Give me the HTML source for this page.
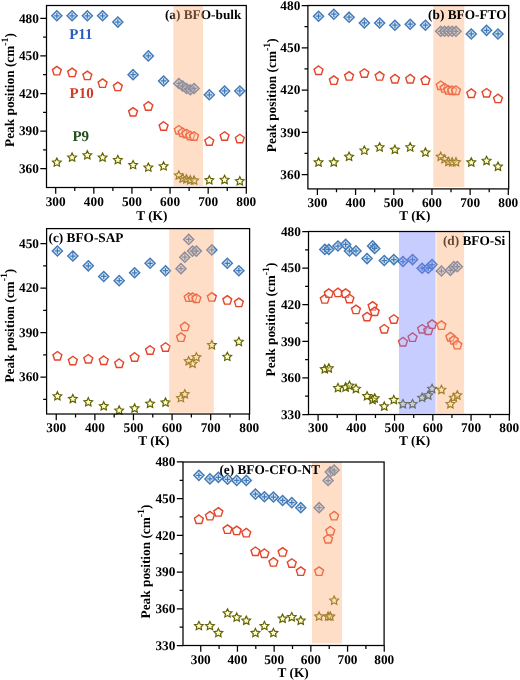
<!DOCTYPE html>
<html lang="en">
<head>
<meta charset="utf-8">
<title>Peak position vs T</title>
<style>
html,body{margin:0;padding:0;background:#fff;}
body{width:520px;height:680px;overflow:hidden;}
svg{display:block;}
</style>
</head>
<body>
<svg width="520" height="680" viewBox="0 0 520 680" font-family="'Liberation Serif', serif" font-weight="bold" font-size="13.3" text-rendering="geometricPrecision">
<defs>
<g id="d"><path d="M0,-5.05 L5.05,0 L0,5.05 L-5.05,0 Z" fill="#a8cdec" fill-opacity="0.5" stroke="#4379b6" stroke-width="1.45" stroke-linejoin="miter"/><path d="M-2.7,0 H2.7 M0,-2.7 V2.7" stroke="#4379b6" stroke-width="1.25" fill="none"/></g>
<polygon id="p" points="0,-4.35 4.47,-1.1 2.76,4.15 -2.76,4.15 -4.47,-1.1" fill="#fff4ec" fill-opacity="0.35" stroke="#e2452c" stroke-width="1.4" stroke-linejoin="miter"/>
<polygon id="s" points="0,-4.05 1.32,-1.32 4.33,-0.91 2.14,1.2 2.67,4.18 0,2.75 -2.67,4.18 -2.14,1.2 -4.33,-0.91 -1.32,-1.32" fill="#ffff90" fill-opacity="0.45" stroke="#626204" stroke-width="1.2" stroke-linejoin="miter"/>
</defs>
<rect width="520" height="680" fill="#fff"/>
<g id="panel-a">
<g><use href="#d" x="56.84" y="15.79"/><use href="#d" x="72.09" y="15.79"/><use href="#d" x="87.34" y="15.79"/><use href="#d" x="102.59" y="15.79"/><use href="#d" x="117.84" y="22.06"/><use href="#d" x="133.08" y="74.7"/><use href="#d" x="148.33" y="55.9"/><use href="#d" x="163.58" y="80.97"/><use href="#d" x="178.83" y="83.47"/><use href="#d" x="182.64" y="85.98"/><use href="#d" x="186.45" y="88.49"/><use href="#d" x="190.26" y="89.74"/><use href="#d" x="194.08" y="88.49"/><use href="#d" x="209.32" y="94.75"/><use href="#d" x="224.57" y="90.99"/><use href="#d" x="239.82" y="90.99"/></g>
<g><use href="#p" x="56.84" y="70.69"/><use href="#p" x="72.09" y="72.44"/><use href="#p" x="87.34" y="75.45"/><use href="#p" x="102.59" y="83.22"/><use href="#p" x="117.84" y="86.48"/><use href="#p" x="133.08" y="111.92"/><use href="#p" x="148.33" y="106.03"/><use href="#p" x="163.58" y="126.09"/><use href="#p" x="178.83" y="129.85"/><use href="#p" x="182.64" y="132.35"/><use href="#p" x="186.45" y="133.61"/><use href="#p" x="190.26" y="135.61"/><use href="#p" x="194.08" y="136.11"/><use href="#p" x="209.32" y="141.13"/><use href="#p" x="224.57" y="136.11"/><use href="#p" x="239.82" y="138.62"/></g>
<g><use href="#s" x="56.84" y="162.06"/><use href="#s" x="72.09" y="157.04"/><use href="#s" x="87.34" y="154.79"/><use href="#s" x="102.59" y="157.04"/><use href="#s" x="117.84" y="159.55"/><use href="#s" x="133.08" y="164.56"/><use href="#s" x="148.33" y="167.07"/><use href="#s" x="163.58" y="165.82"/><use href="#s" x="178.83" y="174.97"/><use href="#s" x="182.64" y="177.85"/><use href="#s" x="186.45" y="178.73"/><use href="#s" x="190.26" y="179.73"/><use href="#s" x="194.08" y="179.98"/><use href="#s" x="209.32" y="179.73"/><use href="#s" x="224.57" y="179.35"/><use href="#s" x="239.82" y="180.73"/></g>
<text x="241.4" y="19" text-anchor="end" font-size="13.3">(a) BFO-bulk</text>
<text x="69.2" y="38.5" fill="#2a5cc0" font-size="15">P11</text>
<text x="69.5" y="97.5" fill="#d23a28" font-size="15">P10</text>
<text x="72.4" y="141.3" fill="#23501a" font-size="15">P9</text>
<rect x="173.4" y="5.5" width="29.6" height="180.7" fill="rgba(255,172,117,0.4)"/>
<rect x="46.5" y="5.5" width="199.8" height="182" fill="none" stroke="#000" stroke-width="1.25"/>
<path d="M46.5,168.7 h-6.2 M46.5,131.1 h-6.2 M46.5,93.5 h-6.2 M46.5,55.9 h-6.2 M46.5,18.3 h-6.2 M46.5,149.9 h-3.4 M46.5,112.3 h-3.4 M46.5,74.7 h-3.4 M46.5,37.1 h-3.4 M55.7,187.5 v6.2 M93.82,187.5 v6.2 M131.94,187.5 v6.2 M170.06,187.5 v6.2 M208.18,187.5 v6.2 M246.3,187.5 v6.2 M74.76,187.5 v3.4 M112.88,187.5 v3.4 M151,187.5 v3.4 M189.12,187.5 v3.4 M227.24,187.5 v3.4" stroke="#000" stroke-width="1.25" fill="none"/>
<text x="38.9" y="173" text-anchor="end">360</text>
<text x="38.9" y="135.4" text-anchor="end">390</text>
<text x="38.9" y="97.8" text-anchor="end">420</text>
<text x="38.9" y="60.2" text-anchor="end">450</text>
<text x="38.9" y="22.6" text-anchor="end">480</text>
<text x="55.7" y="206.4" text-anchor="middle">300</text>
<text x="93.82" y="206.4" text-anchor="middle">400</text>
<text x="131.94" y="206.4" text-anchor="middle">500</text>
<text x="170.06" y="206.4" text-anchor="middle">600</text>
<text x="208.18" y="206.4" text-anchor="middle">700</text>
<text x="246.3" y="206.4" text-anchor="middle">800</text>
<text x="151.8" y="219.5" text-anchor="middle">T (K)</text>
<text transform="translate(14.2,90) rotate(-90)" text-anchor="middle">Peak position (cm<tspan font-size="9.8" dy="-6.1">-1</tspan><tspan dy="6.1">)</tspan></text>
</g>
<g id="panel-b">
<g><use href="#d" x="318.55" y="16.21"/><use href="#d" x="333.82" y="14.24"/><use href="#d" x="349.09" y="17.2"/><use href="#d" x="364.36" y="22.97"/><use href="#d" x="379.63" y="22.97"/><use href="#d" x="394.91" y="25.23"/><use href="#d" x="410.18" y="24.24"/><use href="#d" x="425.45" y="25.23"/><use href="#d" x="440.72" y="31.29"/><use href="#d" x="444.54" y="31.29"/><use href="#d" x="448.36" y="31.29"/><use href="#d" x="452.18" y="31.29"/><use href="#d" x="455.99" y="31.29"/><use href="#d" x="471.27" y="33.97"/><use href="#d" x="486.54" y="30.3"/><use href="#d" x="497.99" y="33.97"/></g>
<g><use href="#p" x="318.55" y="70.32"/><use href="#p" x="333.82" y="80.19"/><use href="#p" x="349.09" y="75.96"/><use href="#p" x="364.36" y="73.14"/><use href="#p" x="379.63" y="75.96"/><use href="#p" x="394.91" y="78.78"/><use href="#p" x="410.18" y="78.78"/><use href="#p" x="425.45" y="80.19"/><use href="#p" x="440.72" y="85.4"/><use href="#p" x="444.54" y="87.94"/><use href="#p" x="448.36" y="89.91"/><use href="#p" x="452.18" y="90.33"/><use href="#p" x="455.99" y="90.33"/><use href="#p" x="471.27" y="93.29"/><use href="#p" x="486.54" y="92.87"/><use href="#p" x="497.99" y="98.5"/></g>
<g><use href="#s" x="318.55" y="161.92"/><use href="#s" x="333.82" y="161.92"/><use href="#s" x="349.09" y="156.28"/><use href="#s" x="364.36" y="150.08"/><use href="#s" x="379.63" y="146.84"/><use href="#s" x="394.91" y="149.24"/><use href="#s" x="410.18" y="146.84"/><use href="#s" x="425.45" y="152.05"/><use href="#s" x="440.72" y="156.28"/><use href="#s" x="444.54" y="158.82"/><use href="#s" x="448.36" y="161.35"/><use href="#s" x="452.18" y="161.78"/><use href="#s" x="455.99" y="161.78"/><use href="#s" x="471.27" y="161.92"/><use href="#s" x="486.54" y="160.37"/><use href="#s" x="497.99" y="166.15"/></g>
<rect x="433.3" y="5.5" width="31" height="181.6" fill="rgba(255,172,117,0.4)"/>
<text x="506.5" y="19.2" text-anchor="end" font-size="13.3">(b) BFO-FTO</text>
<rect x="307.9" y="5.5" width="200.8" height="183.4" fill="none" stroke="#000" stroke-width="1.25"/>
<path d="M307.9,174.6 h-6.2 M307.9,132.32 h-6.2 M307.9,90.05 h-6.2 M307.9,47.77 h-6.2 M307.9,5.5 h-6.2 M307.9,153.46 h-3.4 M307.9,111.19 h-3.4 M307.9,68.91 h-3.4 M307.9,26.64 h-3.4 M317.4,188.9 v6.2 M355.58,188.9 v6.2 M393.76,188.9 v6.2 M431.94,188.9 v6.2 M470.12,188.9 v6.2 M508.3,188.9 v6.2 M336.49,188.9 v3.4 M374.67,188.9 v3.4 M412.85,188.9 v3.4 M451.03,188.9 v3.4 M489.21,188.9 v3.4" stroke="#000" stroke-width="1.25" fill="none"/>
<text x="300.3" y="178.9" text-anchor="end">360</text>
<text x="300.3" y="136.62" text-anchor="end">390</text>
<text x="300.3" y="94.35" text-anchor="end">420</text>
<text x="300.3" y="52.07" text-anchor="end">450</text>
<text x="300.3" y="9.8" text-anchor="end">480</text>
<text x="317.4" y="207.3" text-anchor="middle">300</text>
<text x="355.58" y="207.3" text-anchor="middle">400</text>
<text x="393.76" y="207.3" text-anchor="middle">500</text>
<text x="431.94" y="207.3" text-anchor="middle">600</text>
<text x="470.12" y="207.3" text-anchor="middle">700</text>
<text x="508.3" y="207.3" text-anchor="middle">800</text>
<text x="414.8" y="220" text-anchor="middle">T (K)</text>
<text transform="translate(276.4,95.3) rotate(-90)" text-anchor="middle">Peak position (cm<tspan font-size="9.8" dy="-6.1">-1</tspan><tspan dy="6.1">)</tspan></text>
</g>
<g id="panel-c">
<g><use href="#d" x="57.41" y="250.97"/><use href="#d" x="72.85" y="256.01"/><use href="#d" x="88.3" y="265.81"/><use href="#d" x="103.74" y="276.49"/><use href="#d" x="119.18" y="280.65"/><use href="#d" x="134.63" y="272.78"/><use href="#d" x="150.07" y="263.29"/><use href="#d" x="165.52" y="270.71"/><use href="#d" x="180.96" y="268.63"/><use href="#d" x="184.82" y="257.2"/><use href="#d" x="188.68" y="239.4"/><use href="#d" x="192.54" y="251.12"/><use href="#d" x="196.4" y="251.12"/><use href="#d" x="211.85" y="249.93"/><use href="#d" x="227.29" y="263.29"/><use href="#d" x="238.88" y="270.71"/></g>
<g><use href="#p" x="57.41" y="355.88"/><use href="#p" x="72.85" y="360.63"/><use href="#p" x="88.3" y="358.85"/><use href="#p" x="103.74" y="360.33"/><use href="#p" x="119.18" y="363.3"/><use href="#p" x="134.63" y="357.07"/><use href="#p" x="150.07" y="350.09"/><use href="#p" x="165.52" y="347.13"/><use href="#p" x="180.96" y="337.18"/><use href="#p" x="184.82" y="326.5"/><use href="#p" x="188.68" y="297.27"/><use href="#p" x="192.54" y="297.27"/><use href="#p" x="196.4" y="298.31"/><use href="#p" x="211.85" y="296.97"/><use href="#p" x="227.29" y="299.94"/><use href="#p" x="238.88" y="302.46"/></g>
<g><use href="#s" x="57.41" y="395.8"/><use href="#s" x="72.85" y="398.47"/><use href="#s" x="88.3" y="401.73"/><use href="#s" x="103.74" y="405.74"/><use href="#s" x="119.18" y="410.04"/><use href="#s" x="134.63" y="407.96"/><use href="#s" x="150.07" y="403.22"/><use href="#s" x="165.52" y="402.03"/><use href="#s" x="180.96" y="397.58"/><use href="#s" x="184.82" y="393.72"/><use href="#s" x="188.68" y="360.78"/><use href="#s" x="192.54" y="363.3"/><use href="#s" x="196.4" y="356.77"/><use href="#s" x="211.85" y="344.6"/><use href="#s" x="227.29" y="356.33"/><use href="#s" x="238.88" y="341.34"/></g>
<text x="48.5" y="242" text-anchor="start" font-size="13.3">(c) BFO-SAP</text>
<rect x="169.2" y="228.6" width="44.6" height="184.2" fill="rgba(255,172,117,0.4)"/>
<rect x="46.6" y="228.6" width="203" height="185.4" fill="none" stroke="#000" stroke-width="1.25"/>
<path d="M46.6,377.1 h-6.2 M46.6,332.58 h-6.2 M46.6,288.07 h-6.2 M46.6,243.55 h-6.2 M46.6,399.36 h-3.4 M46.6,354.84 h-3.4 M46.6,310.33 h-3.4 M46.6,265.81 h-3.4 M56.25,414 v6.2 M94.86,414 v6.2 M133.47,414 v6.2 M172.08,414 v6.2 M210.69,414 v6.2 M249.3,414 v6.2 M75.56,414 v3.4 M114.16,414 v3.4 M152.78,414 v3.4 M191.38,414 v3.4 M230,414 v3.4" stroke="#000" stroke-width="1.25" fill="none"/>
<text x="39" y="381.4" text-anchor="end">360</text>
<text x="39" y="336.88" text-anchor="end">390</text>
<text x="39" y="292.37" text-anchor="end">420</text>
<text x="39" y="247.85" text-anchor="end">450</text>
<text x="56.25" y="432.4" text-anchor="middle">300</text>
<text x="94.86" y="432.4" text-anchor="middle">400</text>
<text x="133.47" y="432.4" text-anchor="middle">500</text>
<text x="172.08" y="432.4" text-anchor="middle">600</text>
<text x="210.69" y="432.4" text-anchor="middle">700</text>
<text x="249.3" y="432.4" text-anchor="middle">800</text>
<text x="153.9" y="444.8" text-anchor="middle">T (K)</text>
<text transform="translate(13.5,325.6) rotate(-90)" text-anchor="middle">Peak position (cm<tspan font-size="9.8" dy="-6.1">-1</tspan><tspan dy="6.1">)</tspan></text>
</g>
<g id="panel-d">
<g><use href="#d" x="324.79" y="249.43"/><use href="#d" x="328.81" y="249.43"/><use href="#d" x="337.98" y="246.02"/><use href="#d" x="345.63" y="244.43"/><use href="#d" x="349.46" y="250.9"/><use href="#d" x="355.96" y="250.9"/><use href="#d" x="367.05" y="258.58"/><use href="#d" x="372.59" y="245.9"/><use href="#d" x="374.7" y="248.46"/><use href="#d" x="384.26" y="260.54"/><use href="#d" x="393.82" y="259.56"/><use href="#d" x="402.99" y="261.51"/><use href="#d" x="412.55" y="259.56"/><use href="#d" x="422.11" y="268.22"/><use href="#d" x="428.23" y="268.22"/><use href="#d" x="432.06" y="264.56"/><use href="#d" x="441.42" y="271.03"/><use href="#d" x="450.41" y="270.3"/><use href="#d" x="453.85" y="266.64"/><use href="#d" x="457.29" y="266.64"/></g>
<g><use href="#p" x="324.79" y="298.97"/><use href="#p" x="328.81" y="293.23"/><use href="#p" x="337.98" y="292.5"/><use href="#p" x="345.63" y="293.23"/><use href="#p" x="349.46" y="298.6"/><use href="#p" x="355.96" y="309.46"/><use href="#p" x="367.05" y="316.66"/><use href="#p" x="372.59" y="305.92"/><use href="#p" x="374.7" y="311.41"/><use href="#p" x="384.26" y="328.86"/><use href="#p" x="393.82" y="319.1"/><use href="#p" x="402.99" y="341.79"/><use href="#p" x="412.55" y="337.27"/><use href="#p" x="422.11" y="328.86"/><use href="#p" x="428.23" y="330.32"/><use href="#p" x="432.06" y="324.22"/><use href="#p" x="441.42" y="325.2"/><use href="#p" x="450.41" y="336.79"/><use href="#p" x="453.85" y="339.96"/><use href="#p" x="457.29" y="344.72"/></g>
<g><use href="#s" x="324.79" y="368.75"/><use href="#s" x="328.81" y="367.9"/><use href="#s" x="337.98" y="387.54"/><use href="#s" x="345.63" y="386.93"/><use href="#s" x="349.46" y="385.22"/><use href="#s" x="355.96" y="388.39"/><use href="#s" x="367.05" y="395.71"/><use href="#s" x="372.59" y="399.49"/><use href="#s" x="374.7" y="397.91"/><use href="#s" x="384.26" y="405.96"/><use href="#s" x="393.82" y="399.49"/><use href="#s" x="402.99" y="403.64"/><use href="#s" x="412.55" y="403.64"/><use href="#s" x="422.11" y="397.3"/><use href="#s" x="428.23" y="394.86"/><use href="#s" x="432.06" y="388.39"/><use href="#s" x="441.42" y="389.37"/><use href="#s" x="450.41" y="403.64"/><use href="#s" x="453.85" y="397.3"/><use href="#s" x="457.29" y="394.86"/></g>
<text x="442.9" y="245.2" text-anchor="start" font-size="13.3">(d) BFO-Si</text>
<rect x="399" y="231.5" width="36.6" height="182" fill="rgba(118,130,255,0.4)"/>
<rect x="436.4" y="231.5" width="27.7" height="182" fill="rgba(255,172,117,0.4)"/>
<rect x="308.5" y="231.5" width="201" height="183" fill="none" stroke="#000" stroke-width="1.25"/>
<path d="M308.5,414.5 h-6.2 M308.5,377.9 h-6.2 M308.5,341.3 h-6.2 M308.5,304.7 h-6.2 M308.5,268.1 h-6.2 M308.5,231.5 h-6.2 M308.5,396.2 h-3.4 M308.5,359.6 h-3.4 M308.5,323 h-3.4 M308.5,286.4 h-3.4 M308.5,249.8 h-3.4 M318.1,414.5 v6.2 M356.34,414.5 v6.2 M394.58,414.5 v6.2 M432.82,414.5 v6.2 M471.06,414.5 v6.2 M509.3,414.5 v6.2 M337.22,414.5 v3.4 M375.46,414.5 v3.4 M413.7,414.5 v3.4 M451.94,414.5 v3.4 M490.18,414.5 v3.4" stroke="#000" stroke-width="1.25" fill="none"/>
<text x="300.9" y="418.8" text-anchor="end">330</text>
<text x="300.9" y="382.2" text-anchor="end">360</text>
<text x="300.9" y="345.6" text-anchor="end">390</text>
<text x="300.9" y="309" text-anchor="end">420</text>
<text x="300.9" y="272.4" text-anchor="end">450</text>
<text x="300.9" y="235.8" text-anchor="end">480</text>
<text x="318.1" y="432.3" text-anchor="middle">300</text>
<text x="356.34" y="432.3" text-anchor="middle">400</text>
<text x="394.58" y="432.3" text-anchor="middle">500</text>
<text x="432.82" y="432.3" text-anchor="middle">600</text>
<text x="471.06" y="432.3" text-anchor="middle">700</text>
<text x="509.3" y="432.3" text-anchor="middle">800</text>
<text x="414.6" y="444.8" text-anchor="middle">T (K)</text>
<text transform="translate(275.3,319.5) rotate(-90)" text-anchor="middle">Peak position (cm<tspan font-size="9.8" dy="-6.1">-1</tspan><tspan dy="6.1">)</tspan></text>
</g>
<g id="panel-e">
<g><use href="#d" x="198.91" y="475.36"/><use href="#d" x="209.93" y="478.91"/><use href="#d" x="218.37" y="477.32"/><use href="#d" x="227.54" y="479.28"/><use href="#d" x="236.72" y="480.38"/><use href="#d" x="246.26" y="480.38"/><use href="#d" x="255.43" y="494.09"/><use href="#d" x="264.42" y="496.78"/><use href="#d" x="273.42" y="497.03"/><use href="#d" x="282.59" y="500.46"/><use href="#d" x="291.77" y="502.66"/><use href="#d" x="300.76" y="507.68"/><use href="#d" x="319.11" y="507.68"/><use href="#d" x="328.1" y="480.5"/><use href="#d" x="330.3" y="471.94"/><use href="#d" x="334.15" y="470.1"/></g>
<g><use href="#p" x="198.91" y="519.31"/><use href="#p" x="209.93" y="515.76"/><use href="#p" x="218.37" y="511.96"/><use href="#p" x="227.54" y="529.22"/><use href="#p" x="236.72" y="530.44"/><use href="#p" x="246.26" y="532.77"/><use href="#p" x="255.43" y="551.37"/><use href="#p" x="264.42" y="553.33"/><use href="#p" x="273.42" y="562.02"/><use href="#p" x="282.59" y="551.99"/><use href="#p" x="291.77" y="563.12"/><use href="#p" x="300.76" y="571.2"/><use href="#p" x="319.11" y="571.2"/><use href="#p" x="328.1" y="538.89"/><use href="#p" x="330.3" y="530.81"/><use href="#p" x="334.15" y="515.76"/></g>
<g><use href="#s" x="198.91" y="625.55"/><use href="#s" x="209.93" y="625.55"/><use href="#s" x="218.37" y="632.53"/><use href="#s" x="227.54" y="612.82"/><use href="#s" x="236.72" y="616.98"/><use href="#s" x="246.26" y="620.16"/><use href="#s" x="255.43" y="632.53"/><use href="#s" x="264.42" y="625.55"/><use href="#s" x="273.42" y="632.53"/><use href="#s" x="282.59" y="618.2"/><use href="#s" x="291.77" y="616.61"/><use href="#s" x="300.76" y="620.16"/><use href="#s" x="319.11" y="616"/><use href="#s" x="328.1" y="616"/><use href="#s" x="330.3" y="616"/><use href="#s" x="334.15" y="600.09"/></g>
<rect x="312" y="462" width="30" height="181.5" fill="rgba(255,172,117,0.4)"/>
<text x="219.4" y="474.2" text-anchor="start" font-size="13.3">(e) BFO-CFO-NT</text>
<rect x="183" y="462" width="201.1" height="183.5" fill="none" stroke="#000" stroke-width="1.25"/>
<path d="M183,645.5 h-6.2 M183,608.78 h-6.2 M183,572.06 h-6.2 M183,535.34 h-6.2 M183,498.62 h-6.2 M183,461.9 h-6.2 M183,627.14 h-3.4 M183,590.42 h-3.4 M183,553.7 h-3.4 M183,516.98 h-3.4 M183,480.26 h-3.4 M200.75,645.5 v6.2 M237.45,645.5 v6.2 M274.15,645.5 v6.2 M310.85,645.5 v6.2 M347.55,645.5 v6.2 M384.25,645.5 v6.2 M219.1,645.5 v3.4 M255.8,645.5 v3.4 M292.5,645.5 v3.4 M329.2,645.5 v3.4 M365.9,645.5 v3.4" stroke="#000" stroke-width="1.25" fill="none"/>
<text x="175.4" y="649.8" text-anchor="end">330</text>
<text x="175.4" y="613.08" text-anchor="end">360</text>
<text x="175.4" y="576.36" text-anchor="end">390</text>
<text x="175.4" y="539.64" text-anchor="end">420</text>
<text x="175.4" y="502.92" text-anchor="end">450</text>
<text x="175.4" y="466.2" text-anchor="end">480</text>
<text x="200.75" y="663.5" text-anchor="middle">300</text>
<text x="237.45" y="663.5" text-anchor="middle">400</text>
<text x="274.15" y="663.5" text-anchor="middle">500</text>
<text x="310.85" y="663.5" text-anchor="middle">600</text>
<text x="347.55" y="663.5" text-anchor="middle">700</text>
<text x="384.25" y="663.5" text-anchor="middle">800</text>
<text x="293.2" y="676.5" text-anchor="middle">T (K)</text>
<text transform="translate(150,561.5) rotate(-90)" text-anchor="middle">Peak position (cm<tspan font-size="9.8" dy="-6.1">-1</tspan><tspan dy="6.1">)</tspan></text>
</g>
</svg>
</body>
</html>
